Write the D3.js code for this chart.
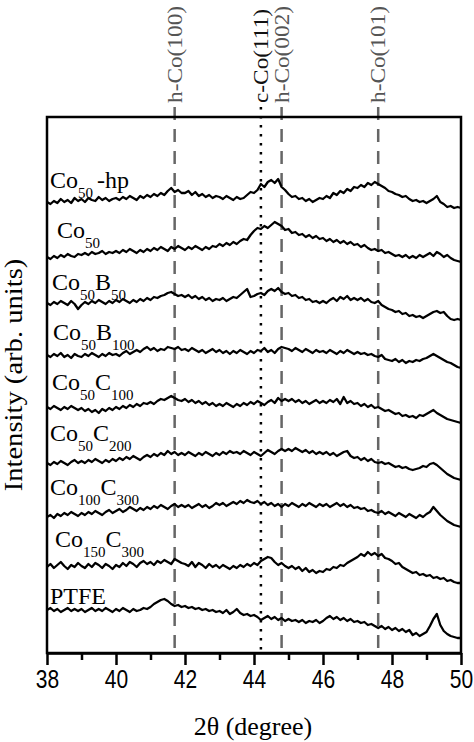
<!DOCTYPE html>
<html>
<head>
<meta charset="utf-8">
<script src="https://cdn.jsdelivr.net/npm/d3@7"></script>
<style>
  body { margin: 0; background: #fff; }
  svg { display: block; }
</style>
</head>
<body>
<svg id="chart"></svg>
<script>
// 2-theta sampling, 38.0 .. 50.0 every 0.1 degree
const twoTheta = d3.range(121).map(i => +(38 + i * 0.1).toFixed(1));

// intensities (arb. units), stacked offsets already included, top trace first
const co50hp = [
  451, 449, 452, 450, 454, 451, 453, 450, 455, 452,
  454, 451, 455, 453, 452, 456, 453, 455, 452, 454,
  455, 453, 456, 454, 457, 455, 453, 457, 455, 458,
  456, 459, 457, 460, 458, 462, 465, 461, 463, 460,
  460, 462, 458, 461, 457, 459, 456, 458, 455, 457,
  456, 454, 457, 455, 453, 456, 454, 455, 458, 461,
  460, 463, 469, 466, 471, 473, 470, 474, 466, 463,
  459, 456, 457, 454, 455, 452, 454, 451, 453, 455,
  454, 457, 455, 460, 458, 462, 460, 464, 462, 466,
  465, 468, 466, 470, 468, 471, 469, 467, 465, 462,
  461, 459, 458, 456, 457, 454, 452, 453, 451, 452,
  450, 452, 454, 457, 451, 449, 446, 447, 445, 446,
  445
];
const co50 = [
  396, 394, 397, 395, 398, 396, 399, 397, 396, 399,
  398, 400, 398, 401, 399, 400, 402, 399, 401, 400,
  402, 400, 403, 401, 404, 402, 400, 403, 401, 404,
  402, 405, 403, 406, 404, 402, 406, 404, 407, 405,
  403, 406, 404, 407, 405, 403, 406, 404, 407, 406,
  409, 407, 410, 408, 411, 409, 412, 414, 413, 418,
  422, 425, 424, 427, 425, 428, 431, 429, 427, 423,
  424, 420, 421, 418, 419, 416, 418, 415, 417, 414,
  415, 412, 414, 411, 413, 410, 412, 409, 411, 408,
  409, 406, 408, 405, 403, 404, 402, 403, 400, 401,
  399, 397, 398, 396, 398, 395, 397, 395, 398, 396,
  398, 400, 397, 401, 399, 396, 398, 395, 393, 392,
  391
];
const co50b50 = [
  350, 348, 351, 349, 352, 350, 348, 352, 349, 344,
  348, 351, 349, 352, 350, 353, 351, 349, 352, 350,
  353, 351, 354, 352, 350, 353, 351, 354, 352, 355,
  353, 356, 355, 357, 358, 360, 361, 359, 357, 358,
  356, 358, 355, 357, 354, 356, 353, 355, 352, 354,
  353, 355, 352, 354, 356, 355, 358, 361, 364, 356,
  357, 359, 360, 358, 362, 364, 362, 365, 361, 359,
  360, 357, 358, 355, 356, 353, 354, 351, 352, 350,
  352, 350, 353, 355, 352, 356, 354, 357, 353, 355,
  353, 355, 352, 354, 351, 350, 352, 348, 346, 344,
  343, 341, 342, 339, 340, 337, 338, 336, 337, 335,
  337, 339, 341, 342, 340, 341, 337, 334, 333, 334,
  333
];
const co50b100 = [
  298, 296, 299, 297, 300, 296, 298, 295, 299, 297,
  296, 299, 297, 300, 298, 296, 299, 297, 300, 298,
  299, 297, 300, 302, 299, 301, 303, 301, 304, 306,
  303, 305, 302, 304, 303, 306, 305, 304, 306, 303,
  304, 302, 305, 303, 301, 303, 300, 302, 304, 301,
  303, 300, 302, 299, 302, 300, 303, 301, 299, 302,
  300, 303, 302, 305, 301, 303, 300, 304, 306, 305,
  304, 302, 305, 303, 301, 304, 302, 300, 303, 301,
  302, 300, 303, 301, 299, 302, 300, 303, 301, 299,
  301, 299, 300, 298, 299, 297, 296, 298, 294, 293,
  292, 294, 291, 293, 290, 292, 291, 293, 292, 294,
  295, 297, 299, 297, 295, 293, 291, 290, 288, 286,
  285
];
const co50c100 = [
  246, 244, 247, 245, 243, 246, 244, 247, 245, 243,
  245, 242, 244, 241, 243, 240, 244, 242, 245, 243,
  246, 244, 247, 245, 248, 246, 249, 247, 250, 249,
  251, 249, 252, 254, 253, 255, 257, 255, 253, 252,
  254, 251, 253, 250, 252, 249, 251, 248, 250, 247,
  249, 247, 250, 248, 246, 249, 247, 250, 248, 251,
  249, 252, 250, 248, 251, 253, 250, 255, 252, 254,
  252, 254, 251, 253, 250, 252, 249, 251, 253, 250,
  252, 250, 253, 251, 254, 249, 256, 250, 252, 249,
  250, 247, 249, 246, 248, 245, 246, 244, 242, 243,
  241, 239, 240, 237, 238, 236, 237, 235, 238, 237,
  239, 241, 243, 240, 238, 236, 234, 233, 232, 231,
  230
];
const co50c200 = [
  190, 188, 191, 189, 192, 190, 188, 191, 193, 190,
  192, 190, 193, 191, 194, 192, 190, 193, 191, 194,
  192, 195, 193, 196, 194, 197, 195, 193, 196, 198,
  196, 199, 197, 200, 198, 202, 199, 201, 198, 200,
  198, 201, 199, 197, 200, 198, 201, 199, 197, 200,
  198, 201, 199, 202, 200, 201, 199, 202, 200, 198,
  201, 199, 197, 200, 203, 201, 199, 202, 204, 202,
  204, 202, 205, 203, 201, 203, 200, 202, 199, 201,
  199, 201, 198, 200, 197, 199, 201, 202, 197, 195,
  196, 193, 195, 192, 194, 191, 190, 191, 189, 190,
  188, 186, 187, 185, 186, 184, 183, 184, 185, 187,
  186, 189, 190, 188, 185, 182, 179, 177, 175, 174,
  173
];
const co100c300 = [
  136, 138, 135, 139, 137, 140, 138, 141, 139, 137,
  140, 138, 141, 139, 142, 140, 138, 141, 143, 140,
  142, 144, 141, 143, 146, 144, 142, 145, 143, 146,
  144, 147, 145, 148, 146, 144, 147, 149, 146, 148,
  146, 148, 145, 147, 149, 146, 148, 145, 147, 150,
  148, 150, 147, 149, 151, 149, 152, 150, 153, 151,
  150, 152, 149, 151, 148, 150, 147, 149, 146, 149,
  147, 150, 148, 146, 149, 147, 150, 148, 146, 149,
  147, 149, 146, 148, 150, 147, 149, 146, 148, 145,
  146, 144, 145, 142, 143, 141, 140, 142, 139, 141,
  139, 137, 140, 138, 136, 139, 137, 135, 138, 136,
  139, 141, 146, 142, 138, 135, 132, 130, 128, 127,
  126
];
const co150c300 = [
  86, 89, 85, 88, 91, 87, 84, 88, 86, 90,
  87, 85, 89, 86, 90, 88, 85, 89, 87, 84,
  88, 86, 90, 87, 91, 89, 86, 90, 92, 89,
  91, 88, 92, 90, 93, 91, 89, 94, 92, 90,
  89, 87, 91, 86, 90, 88, 85, 89, 86, 88,
  85, 88, 86, 84, 87, 85, 88, 86, 89, 87,
  90, 88, 92, 94, 96, 95, 91, 88, 90, 87,
  85, 87, 84, 86, 82, 85, 81, 83, 80, 82,
  81, 84, 83, 86, 85, 88, 87, 90, 92, 94,
  96, 99, 97, 101, 98, 100, 97, 99, 95, 94,
  92, 89, 90, 86, 84, 82, 80, 81, 78, 79,
  77, 78, 75, 76, 74, 75, 72, 73, 71, 70,
  70
];
const ptfe = [
  43, 45, 42, 44, 41, 43, 45, 42, 44, 42,
  44, 41, 43, 45, 42, 44, 42, 45, 43, 41,
  44, 42, 45, 43, 41, 44, 42, 43, 45, 44,
  46, 49, 51, 53, 54, 52, 49, 47, 48, 46,
  47, 45, 46, 44, 45, 43, 44, 42, 43, 41,
  42, 40, 43, 39, 41, 44, 40, 38, 39, 37,
  38, 36, 33, 35, 37, 34, 36, 33, 35, 32,
  34, 32, 33, 31, 33, 30, 32, 31, 33, 30,
  32, 35, 37, 34, 36, 33, 35, 32, 34, 31,
  32, 30, 31, 28, 29, 27, 25, 27, 24, 26,
  23, 25, 22, 24, 21, 23, 18, 20, 17, 19,
  21, 27, 34, 39, 28, 22, 19, 17, 16, 15,
  15
];

const series = [co50hp, co50, co50b50, co50b100, co50c100, co50c200, co100c300, co150c300, ptfe];

// sample names: [text, isSubscript]
const sampleNames = [
  [["Co", 0], ["50", 1], ["-hp", 0]],
  [["Co", 0], ["50", 1]],
  [["Co", 0], ["50", 1], ["B", 0], ["50", 1]],
  [["Co", 0], ["50", 1], ["B", 0], ["100", 1]],
  [["Co", 0], ["50", 1], ["C", 0], ["100", 1]],
  [["Co", 0], ["50", 1], ["C", 0], ["200", 1]],
  [["Co", 0], ["100", 1], ["C", 0], ["300", 1]],
  [["Co", 0], ["150", 1], ["C", 0], ["300", 1]],
  [["PTFE", 0]]
];

const peakPos = [41.7, 44.2, 44.8, 47.6];
const peakNames = ["h-Co(100)", "c-Co(111)", "h-Co(002)", "h-Co(101)"];
const xMajorTicks = [38, 40, 42, 44, 46, 48, 50];
const xMinorTicks = [39, 41, 43, 45, 47, 49];

// label placement (px): x, and baseline offset above the trace start
const labelX = [50, 57, 52, 53, 52, 50, 50, 55, 50];
const labelLift = [14, 19, 13, 15, 17, 22, 22, 20, 6];

const W = 474, H = 742;
const margin = { top: 117, right: 13, bottom: 89, left: 47 };
const width = W - margin.left - margin.right;
const height = H - margin.top - margin.bottom;
const serif = '"Liberation Serif", "Times New Roman", serif';
const sans = '"Liberation Sans", Arial, sans-serif';

const svg = d3.select('#chart').attr('width', W).attr('height', H);
const g = svg.append('g').attr('transform', `translate(${margin.left},${margin.top})`);

const x = d3.scaleLinear().domain([38, 50]).range([0, width]);
const y = d3.scaleLinear().domain([0, 536]).range([height, 0]);

g.append('clipPath').attr('id', 'clip')
  .append('rect').attr('width', width).attr('height', height);

// reference lines
const peakG = g.append('g');
peakG.selectAll('line')
  .data(peakPos)
  .enter()
  .append('line')
  .attr('x1', d => x(d)).attr('x2', d => x(d))
  .attr('y1', -10).attr('y2', height)
  .attr('stroke', (d, i) => i === 1 ? '#000' : '#666')
  .attr('stroke-width', 2.5)
  .attr('stroke-dasharray', (d, i) => i === 1 ? '2.5,6.5' : '13,9');

peakG.selectAll('text')
  .data(peakPos)
  .enter()
  .append('text')
  .attr('transform', d => `translate(${x(d) + 7},-14) rotate(-90) scale(1.06,1)`)
  .attr('text-anchor', 'start')
  .attr('font-family', serif)
  .attr('font-size', 22)
  .attr('fill', (d, i) => i === 1 ? '#111' : '#555')
  .text((d, i) => peakNames[i]);

// traces
const line = d3.line()
  .x((d, i) => x(twoTheta[i]))
  .y(d => y(d));

g.append('g').attr('clip-path', 'url(#clip)')
  .selectAll('path')
  .data(series)
  .enter()
  .append('path')
  .attr('d', line)
  .attr('fill', 'none')
  .attr('stroke', '#000')
  .attr('stroke-width', 2.3)
  .attr('stroke-linejoin', 'round');

// sample labels
const lab = g.append('g').attr('font-family', serif).attr('fill', '#000');
sampleNames.forEach((parts, k) => {
  const t = lab.append('text')
    .attr('x', labelX[k] - margin.left)
    .attr('y', y(series[k][0]) - labelLift[k])
    .attr('font-size', 24);
  let prevSub = false;
  parts.forEach(([txt, sub]) => {
    const dy = sub && !prevSub ? 10 : (!sub && prevSub ? -10 : 0);
    t.append('tspan')
      .attr('dy', dy)
      .attr('dx', !sub && prevSub && txt.startsWith('-') ? 4 : 0)
      .attr('font-size', sub ? 15 : 24)
      .text(txt);
    prevSub = !!sub;
  });
});

// frame
g.append('rect')
  .attr('width', width).attr('height', height)
  .attr('fill', 'none').attr('stroke', '#000').attr('stroke-width', 2.5);

// x axis
const xAxis = g.append('g')
  .attr('transform', `translate(0,${height})`)
  .call(d3.axisBottom(x).tickValues(xMajorTicks).tickSize(12).tickSizeOuter(0).tickPadding(6));
xAxis.select('.domain').attr('stroke-width', 2.5);
xAxis.selectAll('.tick line').attr('stroke-width', 2.5);
xAxis.selectAll('.tick text')
  .attr('font-family', sans).attr('font-size', 21).attr('fill', '#000')
  .attr('y', 0).attr('dy', 0)
  .attr('transform', 'translate(0,35) scale(1,1.22)');

const xMinor = g.append('g')
  .attr('transform', `translate(0,${height})`)
  .call(d3.axisBottom(x).tickValues(xMinorTicks).tickSize(7).tickFormat(''));
xMinor.select('.domain').remove();
xMinor.selectAll('.tick line').attr('stroke-width', 2.5);

// axis titles
svg.append('text')
  .attr('x', margin.left + width / 2 - 1)
  .attr('y', 735)
  .attr('text-anchor', 'middle')
  .attr('font-family', serif)
  .attr('font-size', 26)
  .text('2θ (degree)');

svg.append('text')
  .attr('transform', `translate(22,375) rotate(-90) scale(1.1,1)`)
  .attr('text-anchor', 'middle')
  .attr('font-family', serif)
  .attr('font-size', 26)
  .text('Intensity (arb. units)');
</script>
</body>
</html>
